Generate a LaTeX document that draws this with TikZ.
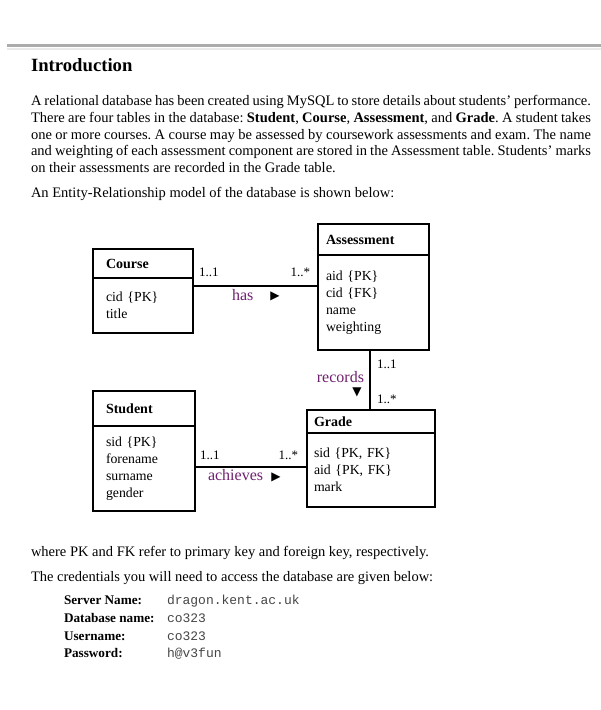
\documentclass[tikz,border=0pt]{standalone}
\usepackage{fontspec}
\setmainfont{Liberation Serif}
\setmonofont{Liberation Mono}
\newfontfamily\symfont{DejaVu Sans}
\usetikzlibrary{positioning,calc}
\definecolor{rulegray}{RGB}{172,172,172}
\definecolor{relpurple}{RGB}{112,32,112}
\definecolor{codegray}{RGB}{70,70,70}
\frenchspacing

\begin{document}
\begin{tikzpicture}[
  x=1pt,y=-1pt,
  every node/.style={inner sep=0pt,outer sep=0pt},
  bodytext/.style={anchor=base west,font=\fontsize{14.5}{16.7}\selectfont},
  heading/.style={anchor=base west,font=\fontsize{18.7}{22}\selectfont\bfseries},
  entityhead/.style={draw,line width=2.4pt,anchor=north west,align=left,
    font=\fontsize{14}{17}\selectfont\bfseries},
  entitybody/.style={draw,line width=2.4pt,anchor=north west,align=left,
    font=\fontsize{13.8}{17}\selectfont},
  link/.style={line width=1.8pt},
  mult/.style={font=\fontsize{13}{15}\selectfont},
  relname/.style={text=relpurple,font=\fontsize{16}{18}\selectfont},
  reldir/.style={font=\symfont\fontsize{12}{13}\selectfont},
  credkey/.style={anchor=base west,font=\fontsize{13.2}{15}\selectfont\bfseries},
  credval/.style={anchor=base west,text=codegray,font=\ttfamily\fontsize{13}{15}\selectfont}
]
\useasboundingbox (0,0) rectangle (601,710);
\fill[white] (0,0) rectangle (601,710);

% -------------------------------------------------------------------------
% Page header and introduction text.
% -------------------------------------------------------------------------
\draw[rulegray,line width=2.5pt] (7,45.5) -- (601,45.5);
\draw[rulegray!25,line width=2pt] (7,48.5) -- (601,48.5);
\node[heading] (title) at (31,71) {Introduction};

\node[bodytext] (par1) at (31,105) {\makebox[560pt][s]{A relational database has been created using MySQL to store details about students' performance.}};
\node[bodytext] (par2) at (31,122) {\makebox[560pt][s]{There are four tables in the database: \textbf{Student}, \textbf{Course}, \textbf{Assessment}, and \textbf{Grade}. A student takes}};
\node[bodytext] (par3) at (31,139) {\makebox[560pt][s]{one or more courses. A course may be assessed by coursework assessments and exam. The name}};
\node[bodytext] (par4) at (31,155) {\makebox[560pt][s]{and weighting of each assessment component are stored in the Assessment table. Students' marks}};
\node[bodytext] (par5) at (31,172) {on their assessments are recorded in the Grade table.};
\node[bodytext] (erintro) at (31,197) {An Entity-Relationship model of the database is shown below:};

% -------------------------------------------------------------------------
% Entity-Relationship model.
% -------------------------------------------------------------------------
\node[entityhead,minimum width=100,minimum height=29,text width=74,inner xsep=13] (chead) at (93,249) {Course};
\node[entitybody,minimum width=100,minimum height=55,text width=74,inner xsep=13] (cbody) at (chead.south west)
  {cid \{PK\}\\title};

\node[entityhead,minimum width=111,minimum height=31,text width=95,inner xsep=8] (ahead) at (318,224) {Assessment};
\node[entitybody,minimum width=111,minimum height=95,text width=95,inner xsep=8] (abody) at (ahead.south west)
  {aid \{PK\}\\cid \{FK\}\\name\\weighting};

\node[entityhead,minimum width=102,minimum height=35,text width=76,inner xsep=13] (shead) at (93,391) {Student};
\node[entitybody,minimum width=102,minimum height=85,text width=76,inner xsep=13] (sbody) at (shead.south west)
  {sid \{PK\}\\forename\\surname\\gender};

\node[entityhead,minimum width=128,minimum height=23,text width=114,inner xsep=7] (ghead) at (307,410) {Grade};
\node[entitybody,minimum width=128,minimum height=74,text width=114,inner xsep=7] (gbody) at (ghead.south west)
  {sid \{PK, FK\}\\aid \{PK, FK\}\\mark};

% Course has Assessment.
\draw[link] ([yshift=19.5pt]cbody.east) coordinate (hasL) -- (hasL -| abody.west) coordinate (hasR);
\node[mult,anchor=base west] (hasmin) at ([xshift=6pt,yshift=10pt]hasL) {1..1};
\node[mult,anchor=base east] (hasmax) at ([xshift=-8pt,yshift=10pt]hasR) {1..*};
\node[relname,anchor=base west] (haslbl) at ([xshift=39pt,yshift=-14pt]hasL) {has};
\node[reldir] (hasdir) at ([xshift=82pt,yshift=-10pt]hasL) {▶};

% Assessment records Grade.
\draw[link] ([xshift=-3.5pt]abody.south) coordinate (recT) -- (recT |- ghead.north) coordinate (recB);
\node[mult,anchor=base west] (recmin) at ([xshift=7pt,yshift=-18pt]recT) {1..1};
\node[mult,anchor=base west] (recmax) at ([xshift=7pt,yshift=7pt]recB) {1..*};
\node[relname,anchor=base east] (reclbl) at ([xshift=-6pt,yshift=-32pt]recT) {records};
\node[reldir] (recdir) at ([xshift=-13pt,yshift=-42pt]recT) {▼};

% Student achieves Grade.
\draw[link] ([yshift=1.5pt]sbody.east) coordinate (achL) -- (achL -| gbody.west) coordinate (achR);
\node[mult,anchor=base west] (achmin) at ([xshift=5pt,yshift=8pt]achL) {1..1};
\node[mult,anchor=base east] (achmax) at ([xshift=-9pt,yshift=8pt]achR) {1..*};
\node[relname,anchor=base west] (achlbl) at ([xshift=13pt,yshift=-13pt]achL) {achieves};
\node[reldir] (achdir) at ([xshift=81pt,yshift=-10pt]achL) {▶};

% -------------------------------------------------------------------------
% Notes and credentials.
% -------------------------------------------------------------------------
\node[bodytext] (keynote) at (31,556) {where PK and FK refer to primary key and foreign key, respectively.};
\node[bodytext] (crednote) at (31,581) {The credentials you will need to access the database are given below:};

\node[credkey] (kserver) at (64,604) {Server Name:};
\node[credkey] (kdb) at (64,622) {Database name:};
\node[credkey] (kuser) at (64,640) {Username:};
\node[credkey] (kpass) at (64,657) {Password:};
\node[credval] (vserver) at (167,604) {dragon.kent.ac.uk};
\node[credval] (vdb) at (167,622) {co323};
\node[credval] (vuser) at (167,640) {co323};
\node[credval] (vpass) at (167,657) {h@v3fun};
\end{tikzpicture}
\end{document}
